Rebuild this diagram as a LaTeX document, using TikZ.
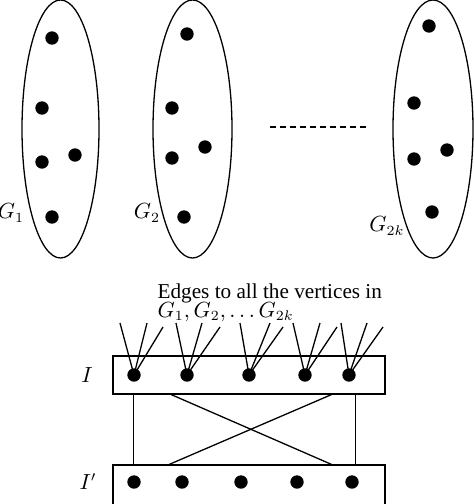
\documentclass[tikz,border=0pt]{standalone}
\usepackage{fontspec}
\setmainfont{Liberation Serif}
\usetikzlibrary{shapes.geometric,calc}
\tikzset{
  vtx/.style={circle, fill=black, inner sep=0pt, minimum size=6.7pt},
  grp/.style={ellipse, draw, inner sep=0pt, minimum height=129pt},
  setbox/.style={rectangle, draw, inner sep=0pt, minimum width=136pt},
  lbl/.style={inner sep=0pt, font=\fontsize{10.6}{12.7}\selectfont}
}
\begin{document}
\begin{tikzpicture}[x=0.5pt, y=-0.5pt, line width=0.65pt]
\clip (0,0) rectangle (474,504);
\def\ty{375}
\def\by{482}

% the groups G_1, G_2, ..., G_2k
\node[grp, minimum width=38.5pt] (g1) at (60.5,129) {};
\node[grp, minimum width=39.5pt] (g2) at (192.5,129) {};
\node[grp, minimum width=40pt] (g3) at (433,129) {};
\node[lbl] (g1l) at (11,213) {$G_1$};
\node[lbl] (g2l) at (147,213) {$G_2$};
\node[lbl] (g3l) at (387,226) {$G_{2k}$};

\node[vtx] (a1) at (52,38) {};
\node[vtx] (a2) at (42,108) {};
\node[vtx] (a3) at (42,162) {};
\node[vtx] (a4) at (75,155) {};
\node[vtx] (a5) at (52,217) {};

\node[vtx] (b1) at (187,34) {};
\node[vtx] (b2) at (172,108) {};
\node[vtx] (b3) at (172,158) {};
\node[vtx] (b4) at (205,147) {};
\node[vtx] (b5) at (184,217) {};

\node[vtx] (c1) at (429,26) {};
\node[vtx] (c2) at (414,103) {};
\node[vtx] (c3) at (414,159) {};
\node[vtx] (c4) at (447,150) {};
\node[vtx] (c5) at (432,212) {};

\coordinate (d1) at (270,127);
\coordinate (d2) at (368,127);
\draw[dash pattern=on 3pt off 2pt] (d1) -- (d2);

% the sets I and I'
\node[lbl, anchor=west] (txt1) at (157,293) {Edges to all the vertices in};
\node[lbl, anchor=west] (txt2) at (157,312) {$G_1, G_2, \ldots G_{2k}$};

\node[setbox, minimum height=19pt] (boxI) at (249,375) {};
\node[setbox, minimum height=37.5pt] (boxJ) at (249,502.5) {};
\node[lbl] (il) at (87,\ty) {$I$};
\node[lbl] (jl) at (88,\by) {$I'$};

\node[vtx] (p1) at (134,\ty) {};
\node[vtx] (p2) at (187,\ty) {};
\node[vtx] (p3) at (249,\ty) {};
\node[vtx] (p4) at (305,\ty) {};
\node[vtx] (p5) at (349,\ty) {};

\node[vtx] (q1) at (134,\by) {};
\node[vtx] (q2) at (182,\by) {};
\node[vtx] (q3) at (241,\by) {};
\node[vtx] (q4) at (297,\by) {};
\node[vtx] (q5) at (352,\by) {};

\foreach \i/\a/\b/\c in {1/-14/13/29, 2/-11/15/33, 3/-9/21/34, 4/-12/15/32, 5/-8/18/34} {
  \coordinate (f\i a) at ($(p\i)+(\a,-52)$);
  \coordinate (f\i b) at ($(p\i)+(\b,-52)$);
  \coordinate (f\i c) at ($(p\i)+(\c,-48)$);
  \draw (p\i.center) -- (f\i a);
  \draw (p\i.center) -- (f\i b);
  \draw (p\i.center) -- (f\i c);
}

\coordinate (u1) at ($(boxI.south west)+(21,0)$);
\coordinate (u2) at ($(boxI.south west)+(59,0)$);
\coordinate (u3) at ($(boxI.south west)+(219,0)$);
\coordinate (u4) at ($(boxI.south west)+(243,0)$);
\coordinate (v1) at ($(boxJ.north west)+(21,0)$);
\coordinate (v2) at ($(boxJ.north west)+(57,0)$);
\coordinate (v3) at ($(boxJ.north west)+(219,0)$);
\coordinate (v4) at ($(boxJ.north west)+(243,0)$);
\draw (u1) -- (v1);
\draw (u4) -- (v4);
\draw (u2) -- (v3);
\draw (u3) -- (v2);
\end{tikzpicture}
\end{document}
